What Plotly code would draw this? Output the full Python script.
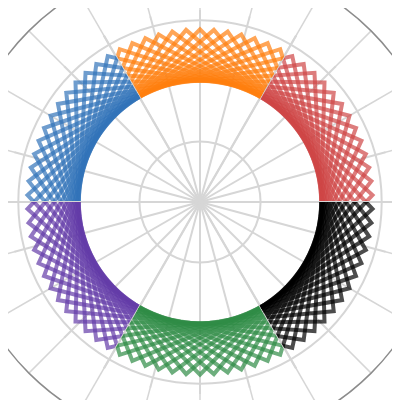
import math

import plotly.graph_objects as go

# ---------------------------------------------------------------------------
# Datos: seis sectores de 60° con el mismo entramado de cuerdas
# ---------------------------------------------------------------------------

SECTOR_START = [0, 60, 120, 180, 240, 300]
SECTOR_COLOR = [
    "rgba(207,70,70,0.7)",    # rojo
    "rgba(255,127,14,0.7)",   # naranja
    "rgba(50,115,185,0.7)",   # azul
    "rgba(100,60,168,0.7)",   # morado
    "rgba(47,139,70,0.7)",    # verde
    "rgba(0,0,0,0.7)",        # negro
]

# vértices del zigzag (grados, relativos al inicio del sector)
CORNER_THETA = [
    -48.46, -43.85, -39.23, -34.62, -30.0, -25.38, -20.77, -16.15, -11.54,
    -6.92, -2.31, 2.31, 6.92, 11.54, 16.15, 20.77, 25.38, 30.0, 34.62,
    39.23, 43.85, 48.46, 53.08, 57.69, 62.31, 66.92, 71.54, 76.15, 80.77,
    85.38, 90.0, 94.62, 99.23, 103.85, 108.46,
]
R_IN = 2.0
R_OUT = 2.85
SPAN = 10          # vértices que salta cada cuerda

R_MAX = 3.17
GRID = "#d6d6d6"
SPOKES = list(range(0, 360, 15))

# ---------------------------------------------------------------------------
# Geometría: cada sector es un subplot polar con el mismo centro y radio
# ---------------------------------------------------------------------------

W, H = 400, 400
CX, CY = 192, 194          # centro en px de la figura
RAD_PX = 192               # radio visible del área polar
RO = 242                   # radio del borde exterior (se sale de la figura)


def sector_bbox(a0, a1):
    pts = [(0.0, 0.0)]
    for a in range(a0, a1 + 1, 15):
        pts.append((round(math.cos(math.radians(a)), 6),
                    round(math.sin(math.radians(a)), 6)))
    xs = [p[0] for p in pts]
    ys = [p[1] for p in pts]
    return min(xs), min(ys), max(xs), max(ys)


def to_paper(rad, ang):
    x = CX + rad * math.cos(math.radians(ang))
    y = CY - rad * math.sin(math.radians(ang))
    return x / W, (H - y) / H


fig = go.Figure()
layout_polars = {}
for n, (start, color) in enumerate(zip(SECTOR_START, SECTOR_COLOR), 1):
    theta, r = [], []
    for j in range(SPAN):
        pts = CORNER_THETA[j::SPAN]
        for first, second in ((R_IN, R_OUT), (R_OUT, R_IN)):
            for i, t in enumerate(pts):
                theta.append(start + t)
                r.append(first if i % 2 == 0 else second)
            theta.append(None)
            r.append(None)
    name = "polar" if n == 1 else f"polar{n}"
    fig.add_trace(go.Scatterpolar(
        r=r, theta=theta, mode="lines", subplot=name,
        line=dict(color=color, width=4), showlegend=False,
        hoverinfo="skip",
    ))
    bx0, by0, bx1, by1 = sector_bbox(start, start + 60)
    layout_polars[name] = dict(
        domain=dict(x=[(CX + RAD_PX * bx0) / W, (CX + RAD_PX * bx1) / W],
                    y=[(H - CY + RAD_PX * by0) / H, (H - CY + RAD_PX * by1) / H]),
        sector=[start, start + 60],
        bgcolor="rgba(0,0,0,0)",
        radialaxis=dict(range=[0, R_MAX], dtick=1, showline=False,
                        showticklabels=False, ticks="",
                        gridcolor=GRID, gridwidth=1.5),
        angularaxis=dict(tick0=0, dtick=15, showline=False,
                         showticklabels=False, ticks="",
                         gridcolor=GRID, gridwidth=1.5),
    )

# prolongación de los radios hasta el borde exterior
for a in SPOKES:
    x0, y0 = to_paper(RAD_PX - 1, a)
    x1, y1 = to_paper(RO, a)
    fig.add_shape(type="line", xref="paper", yref="paper",
                  x0=x0, y0=y0, x1=x1, y1=y1, layer="below",
                  line=dict(color=GRID, width=1.5))

# borde exterior del eje angular
fig.add_shape(type="circle", xref="paper", yref="paper",
              x0=(CX - RO) / W, x1=(CX + RO) / W,
              y0=(H - CY - RO) / H, y1=(H - CY + RO) / H,
              line=dict(color="#8c8c8c", width=1.5))

fig.update_layout(
    **layout_polars,
    width=W, height=H,
    margin=dict(l=0, r=0, t=0, b=0),
    paper_bgcolor="white",
    plot_bgcolor="white",
    showlegend=False,
)
fig.write_html("out.html")
